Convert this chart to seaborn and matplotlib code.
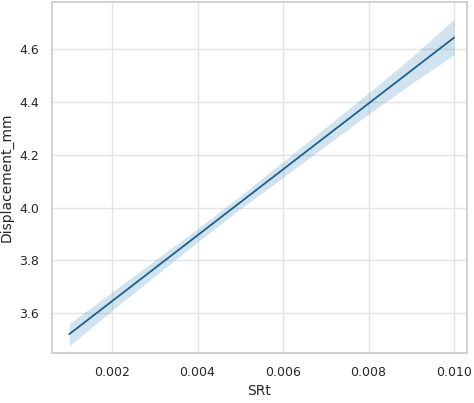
import matplotlib
matplotlib.use("Agg")
import matplotlib.pyplot as plt
import seaborn as sns
import pandas as pd

srt = [0.001, 0.002, 0.003, 0.004, 0.005, 0.006, 0.007, 0.008, 0.009, 0.010]
disp = [3.52, 3.645, 3.77, 3.895, 4.02, 4.145, 4.27, 4.395, 4.52, 4.645]
lower = [3.475, 3.61, 3.74, 3.87, 3.995, 4.115, 4.235, 4.355, 4.47, 4.58]
upper = [3.56, 3.68, 3.80, 3.92, 4.045, 4.175, 4.305, 4.435, 4.57, 4.715]

sns.set_theme(style="whitegrid", rc={"grid.color": "#e3e3e3"})
fig, ax = plt.subplots(figsize=(4.74, 4.03), dpi=100)
df = pd.DataFrame({"SRt": srt, "Displacement_mm": disp})
sns.lineplot(data=df, x="SRt", y="Displacement_mm", ax=ax, color="#1f5f8b", linewidth=1.3)
ax.fill_between(srt, lower, upper, color="#1f77b4", alpha=0.2, linewidth=0)
ax.set_xlim(0.0006, 0.0103)
ax.set_ylim(3.45, 4.78)
ax.set_xticks([0.002, 0.004, 0.006, 0.008, 0.010])
ax.set_xticklabels(["0.002", "0.004", "0.006", "0.008", "0.010"])
ax.tick_params(labelsize=9)
ax.xaxis.label.set_size(10)
ax.yaxis.label.set_size(10)
fig.subplots_adjust(left=0.11, right=0.985, top=0.995, bottom=0.125)
fig.savefig("out.png")
